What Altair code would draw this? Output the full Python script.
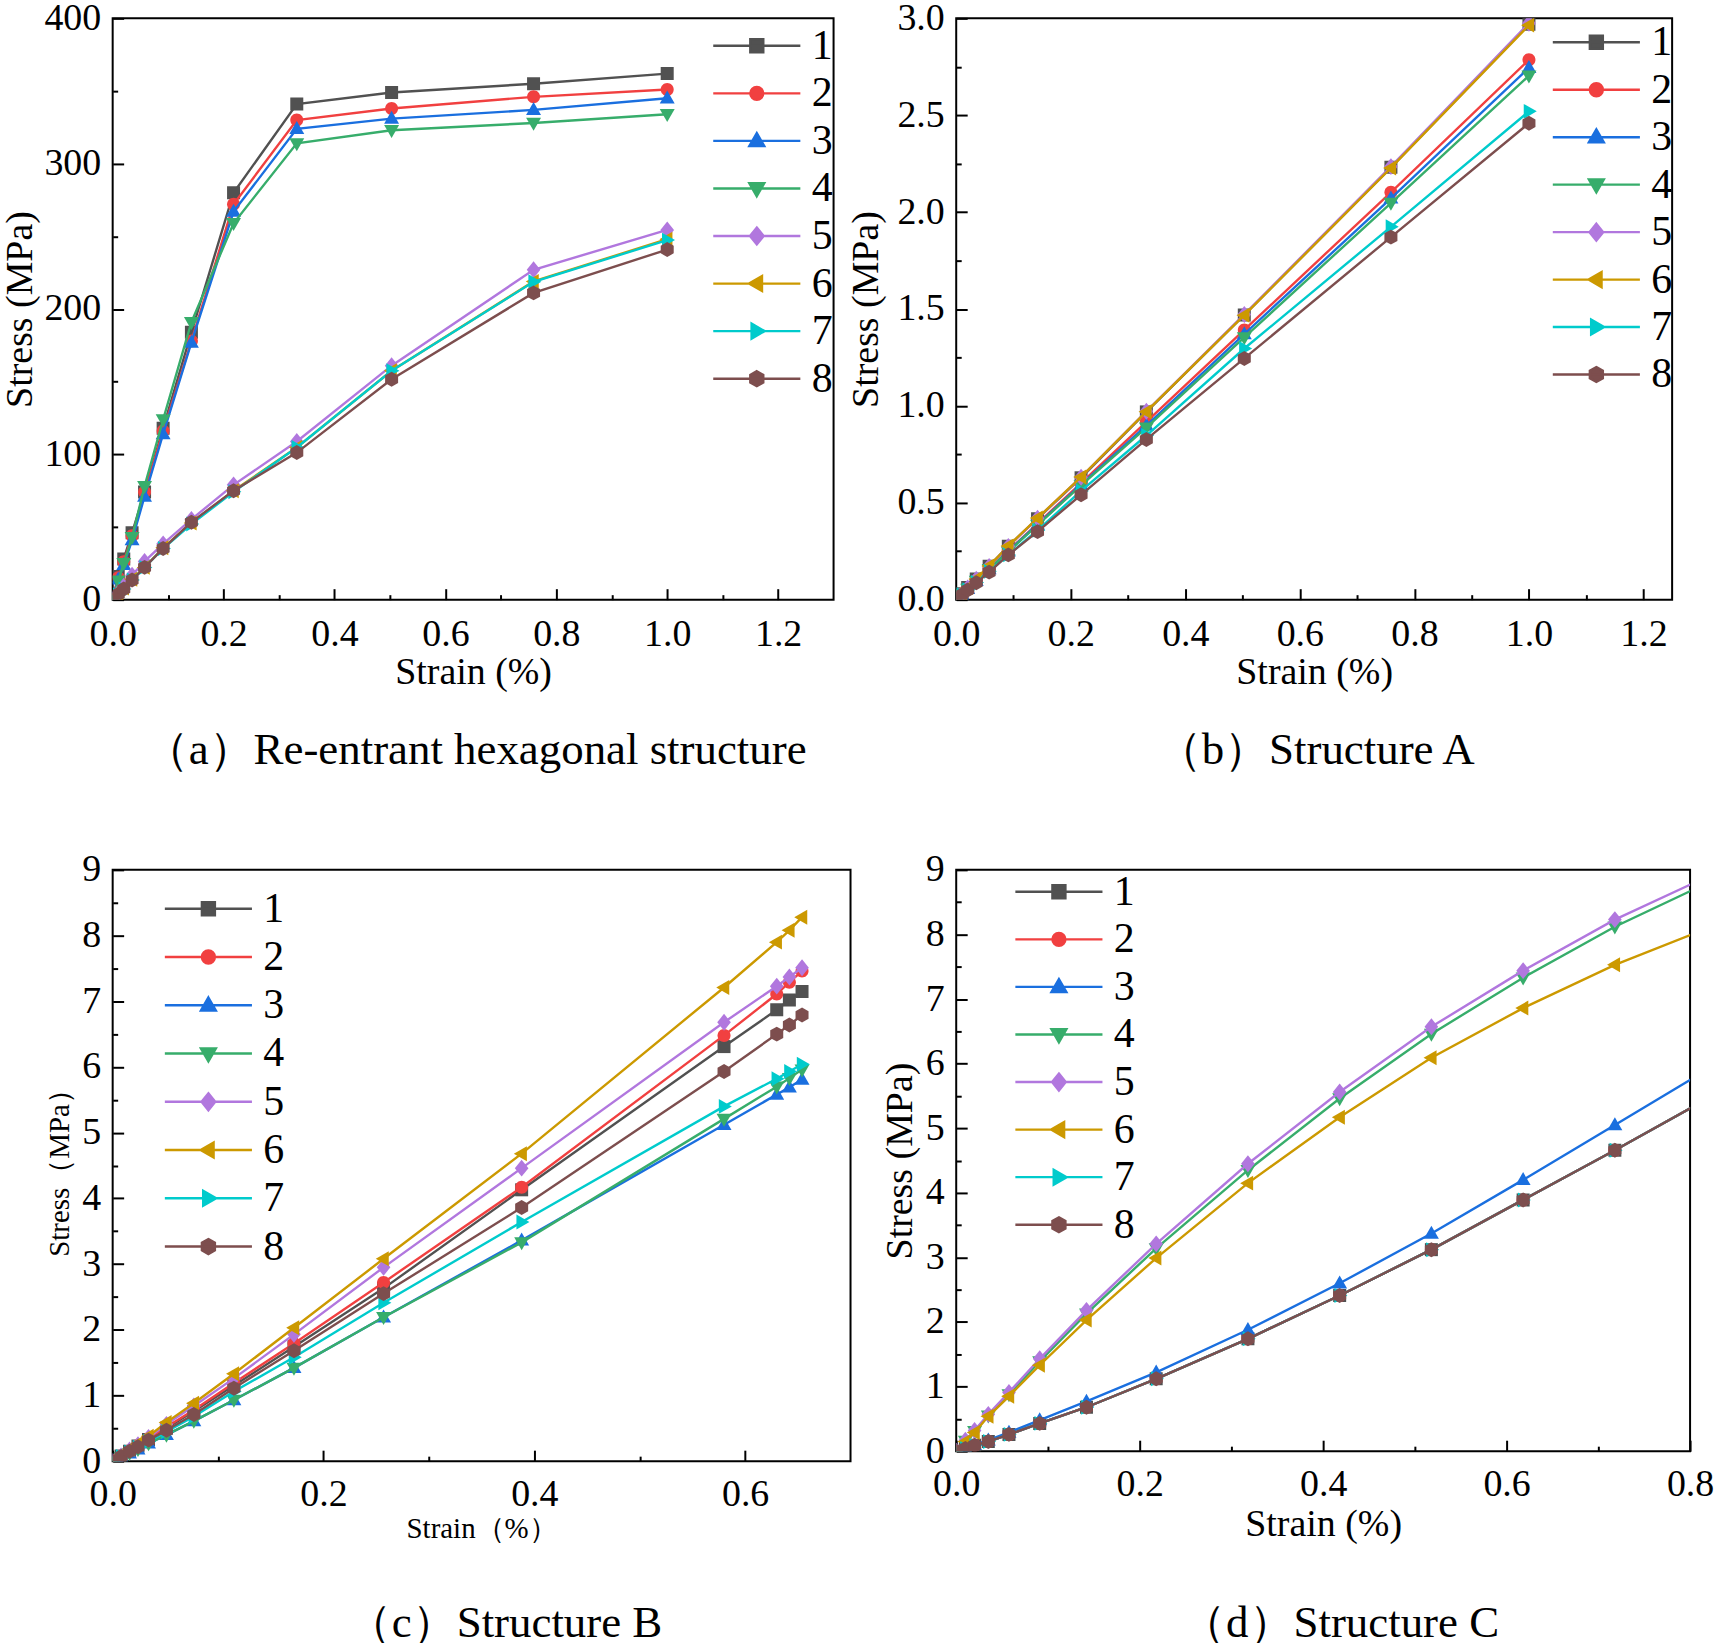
import altair as alt
import pandas as pd

FONT = "Liberation Serif"

SERIES = ["1", "2", "3", "4", "5", "6", "7", "8"]
COLORS = ["#515151", "#F14040", "#1A6FDF", "#37AD6B",
          "#B177DE", "#CC9900", "#00CBCC", "#7D4E4E"]

# Marker outlines in unit symbol coordinates
MARKERS = [
    "M-1,-1H1V1H-1Z",                                  # square
    "M1,0A1,1,0,1,1,-1,0A1,1,0,1,1,1,0Z",              # circle
    "M0,-1.2L1.15,0.8H-1.15Z",                         # triangle up
    "M0,1.2L1.15,-0.8H-1.15Z",                         # triangle down
    "M0,-1.3L1.05,0L0,1.3L-1.05,0Z",                   # diamond
    "M-1.2,0L0.8,-1.15V1.15Z",                         # triangle left
    "M1.2,0L-0.8,-1.15V1.15Z",                         # triangle right
    "M0,-1.15L1,-0.58V0.58L0,1.15L-1,0.58V-0.58Z",     # hexagon
]
# legend swatch: line segment through the marker
LEGEND_LINE = "M-6.7,0H6.7"
MSIZE = 170

# ---------------- (a) re-entrant hexagonal structure ----------------
STRAIN_A = [0, 0.01, 0.02, 0.035, 0.0575, 0.091, 0.142, 0.218, 0.332, 0.503, 0.759, 1.0]
STRESS_A = [
    [0, 16, 28, 46, 74, 118, 184, 280, 341, 349, 355, 362],
    [0, 15, 26, 44, 74, 116, 178, 272, 330, 338, 346, 351],
    [0, 14, 24, 41, 71, 114, 177, 267, 324, 331, 337, 345],
    [0, 13, 25, 43, 78, 124, 191, 259, 314, 323, 328, 334],
    [0, 4.6, 9.2, 16.8, 26.3, 38.4, 55.2, 79, 108.8, 161, 227, 254.4],
    [0, 3.8, 8, 14, 22.2, 35.7, 52.8, 75, 104.7, 157.5, 219, 248],
    [0, 3.2, 7.3, 13.5, 22.2, 35.2, 52, 74.2, 104.7, 157.5, 218.7, 247.4],
    [0, 3.8, 7.3, 13.5, 22.2, 35.2, 53.3, 75, 101.2, 151.6, 211.1, 240.9],
]

# ---------------- (b) structure A ----------------
STRAIN_B = [0, 0.01, 0.02, 0.035, 0.0575, 0.091, 0.142, 0.218, 0.332, 0.503, 0.759, 1.0]
STRESS_B = [
    [0, 0.031, 0.063, 0.106, 0.173, 0.276, 0.418, 0.629, 0.969, 1.469, 2.231, 2.970],
    [0, 0.029, 0.057, 0.099, 0.160, 0.253, 0.393, 0.602, 0.918, 1.392, 2.102, 2.786],
    [0, 0.028, 0.056, 0.097, 0.158, 0.250, 0.388, 0.594, 0.898, 1.371, 2.071, 2.745],
    [0, 0.028, 0.055, 0.096, 0.157, 0.248, 0.385, 0.590, 0.888, 1.353, 2.047, 2.704],
    [0, 0.030, 0.061, 0.105, 0.172, 0.275, 0.420, 0.632, 0.972, 1.472, 2.235, 2.975],
    [0, 0.030, 0.062, 0.107, 0.174, 0.277, 0.421, 0.633, 0.970, 1.468, 2.228, 2.965],
    [0, 0.026, 0.051, 0.089, 0.146, 0.231, 0.358, 0.561, 0.847, 1.296, 1.924, 2.520],
    [0, 0.025, 0.050, 0.087, 0.142, 0.231, 0.351, 0.541, 0.827, 1.245, 1.871, 2.459],
]

# ---------------- (c) structure B ----------------
STRAIN_C = [0, 0.008, 0.016, 0.024, 0.034, 0.051, 0.077, 0.115, 0.172, 0.257,
            0.388, 0.580, 0.630, 0.642, 0.654]
STRESS_C = [
    [0, 0.08, 0.15, 0.23, 0.33, 0.50, 0.76, 1.15, 1.74, 2.63, 4.13, 6.31, 6.87, 7.02, 7.15],
    [0, 0.08, 0.16, 0.24, 0.34, 0.52, 0.78, 1.19, 1.79, 2.72, 4.17, 6.48, 7.11, 7.29, 7.46],
    [0, 0.06, 0.12, 0.18, 0.27, 0.40, 0.61, 0.93, 1.42, 2.19, 3.36, 5.12, 5.58, 5.69, 5.81],
    [0, 0.06, 0.12, 0.18, 0.27, 0.40, 0.61, 0.93, 1.42, 2.19, 3.33, 5.21, 5.70, 5.83, 5.96],
    [0, 0.08, 0.17, 0.25, 0.36, 0.56, 0.84, 1.26, 1.93, 2.95, 4.46, 6.68, 7.23, 7.37, 7.51],
    [0, 0.09, 0.18, 0.27, 0.38, 0.59, 0.88, 1.33, 2.03, 3.08, 4.68, 7.21, 7.90, 8.08, 8.28],
    [0, 0.07, 0.14, 0.21, 0.30, 0.45, 0.68, 1.06, 1.58, 2.41, 3.64, 5.40, 5.82, 5.93, 6.04],
    [0, 0.07, 0.15, 0.22, 0.32, 0.47, 0.71, 1.11, 1.68, 2.55, 3.86, 5.93, 6.50, 6.64, 6.79],
]

# ---------------- (d) structure C ----------------
STRAIN_D = [0, 0.01, 0.02, 0.035, 0.0575, 0.091, 0.142, 0.218, 0.318, 0.418,
            0.518, 0.618, 0.718, 0.818]
STRESS_D = [
    [0, 0.04, 0.09, 0.15, 0.26, 0.43, 0.68, 1.12, 1.74, 2.41, 3.12, 3.89, 4.66, 5.45],
    [0, 0.04, 0.09, 0.15, 0.26, 0.43, 0.68, 1.12, 1.74, 2.41, 3.12, 3.89, 4.66, 5.45],
    [0, 0.05, 0.10, 0.17, 0.29, 0.48, 0.77, 1.22, 1.88, 2.60, 3.37, 4.20, 5.05, 5.90],
    [0, 0.16, 0.31, 0.55, 0.88, 1.39, 2.13, 3.14, 4.35, 5.46, 6.46, 7.33, 8.12, 8.79],
    [0, 0.17, 0.32, 0.57, 0.91, 1.43, 2.18, 3.21, 4.45, 5.56, 6.57, 7.44, 8.23, 8.89],
    [0, 0.15, 0.29, 0.54, 0.85, 1.33, 2.03, 2.99, 4.15, 5.17, 6.09, 6.86, 7.53, 8.09],
    [0, 0.04, 0.09, 0.15, 0.26, 0.43, 0.68, 1.12, 1.74, 2.41, 3.12, 3.89, 4.66, 5.45],
    [0, 0.04, 0.09, 0.15, 0.26, 0.43, 0.68, 1.12, 1.74, 2.41, 3.12, 3.89, 4.66, 5.45],
]


def long_table(strain, curves):
    rows = []
    for s, vals in zip(SERIES, curves):
        for x, y in zip(strain, vals):
            rows.append({"strain": x, "stress": y, "series": s})
    return pd.DataFrame(rows)


def major_axis(orient, values, fmt, title, title_size, title_padding, label_padding):
    return alt.Axis(
        orient=orient, values=values, format=fmt, title=title, grid=False,
        domain=False, ticks=True, tickSize=11, tickWidth=2, tickColor="black",
        offset=-11, labelFont=FONT, labelFontSize=38, labelColor="black",
        labelPadding=label_padding, labelFlush=False, labelOverlap=False,
        titleFont=FONT, titleFontSize=title_size, titleFontWeight="normal",
        titleColor="black", titlePadding=title_padding,
    )


def minor_axis(orient, values):
    return alt.Axis(
        orient=orient, values=values, labels=False, title=None, grid=False,
        domain=False, ticks=True, tickSize=5, tickWidth=2, tickColor="black",
        offset=-5,
    )


def panel(df, p):
    xs = alt.Scale(domain=p["xdomain"], nice=False, zero=False)
    ys = alt.Scale(domain=p["ydomain"], nice=False, zero=False)
    cs = alt.Scale(domain=SERIES, range=COLORS)

    # legend carrier: invisible points whose legend draws line + marker swatches
    leg = alt.Legend(
        orient="none", legendX=p["legx"], legendY=p["legy"], title=None,
        direction="vertical", symbolSize=MSIZE, symbolStrokeWidth=2.4,
        symbolOpacity=1, labelFont=FONT, labelFontSize=42, labelColor="black",
        labelOffset=34, rowPadding=p["rowpad"], padding=0,
    )
    key = alt.Chart(pd.DataFrame({"series": SERIES})).mark_point(
        filled=True, opacity=0, size=MSIZE).encode(
        color=alt.Color("series:N", scale=cs, legend=leg),
        stroke=alt.Stroke("series:N", scale=alt.Scale(domain=SERIES, range=COLORS), legend=leg),
        shape=alt.Shape("series:N",
                        scale=alt.Scale(domain=SERIES, range=[LEGEND_LINE + m for m in MARKERS]),
                        legend=leg),
    )
    layers = [key]
    for i, s in enumerate(SERIES):
        base = alt.Chart(df).transform_filter(alt.datum.series == s)
        if i == 0:
            xa_line = major_axis("bottom", p["xticks"], ".1f", p["xtitle"], p["tsize"],
                                 p["xtpad"], p["xlpad"])
            ya_line = major_axis("left", p["yticks"], p["yfmt"], p["ytitle"], p["tsize"],
                                 p["ytpad"], 12)
            xa_pt = minor_axis("bottom", p["xminor"])
            ya_pt = minor_axis("left", p["yminor"])
        else:
            xa_line = ya_line = xa_pt = ya_pt = None
        line = base.mark_line(strokeWidth=2.4, clip=True).encode(
            x=alt.X("strain:Q", scale=xs, axis=xa_line),
            y=alt.Y("stress:Q", scale=ys, axis=ya_line),
            color=alt.Color("series:N", scale=cs, legend=None),
        )
        pts = base.mark_point(filled=True, opacity=1, size=MSIZE, shape=MARKERS[i],
                              clip=True).encode(
            x=alt.X("strain:Q", scale=xs, axis=xa_pt),
            y=alt.Y("stress:Q", scale=ys, axis=ya_pt),
            color=alt.Color("series:N", scale=cs, legend=None),
        )
        layers += [line, pts]

    return alt.layer(*layers).resolve_axis(x="independent", y="independent").properties(
        width=p["w"], height=p["h"],
        title=alt.TitleParams(
            text=p["caption"], orient="bottom", anchor="middle", frame="group",
            offset=p["coff"], dx=p["cdx"], font=FONT, fontSize=45,
            fontWeight="normal", color="black",
        ),
    )


pa = panel(long_table(STRAIN_A, STRESS_A), dict(
    xdomain=[0, 1.3], ydomain=[0, 400],
    xticks=[0, 0.2, 0.4, 0.6, 0.8, 1.0, 1.2], xminor=[0.1, 0.3, 0.5, 0.7, 0.9, 1.1],
    yticks=[0, 100, 200, 300, 400], yminor=[50, 150, 250, 350], yfmt="d",
    xtitle="Strain (%)", ytitle="Stress (MPa)", tsize=38, xtpad=0, xlpad=16, ytpad=4,
    legx=625, legy=6.5, rowpad=5.7, w=723, h=583,
    caption="（a）Re-entrant hexagonal structure", coff=37, cdx=2,
))

pb = panel(long_table(STRAIN_B, STRESS_B), dict(
    xdomain=[0, 1.25], ydomain=[0, 3.0],
    xticks=[0, 0.2, 0.4, 0.6, 0.8, 1.0, 1.2], xminor=[0.1, 0.3, 0.5, 0.7, 0.9, 1.1],
    yticks=[0, 0.5, 1.0, 1.5, 2.0, 2.5, 3.0],
    yminor=[0.25, 0.75, 1.25, 1.75, 2.25, 2.75], yfmt=".1f",
    xtitle="Strain (%)", ytitle="Stress (MPa)", tsize=38, xtpad=0, xlpad=16, ytpad=11,
    legx=621, legy=3, rowpad=5.6, w=718, h=583,
    caption="（b）Structure A", coff=37, cdx=1.5,
))

pc = panel(long_table(STRAIN_C, STRESS_C), dict(
    xdomain=[0, 0.7], ydomain=[0, 9],
    xticks=[0, 0.2, 0.4, 0.6], xminor=[0.1, 0.3, 0.5],
    yticks=list(range(0, 10)), yminor=[0.5 + k for k in range(9)], yfmt="d",
    xtitle="Strain（%）", ytitle="Stress（MPa）", tsize=29, xtpad=2, xlpad=14, ytpad=7,
    legx=75, legy=18, rowpad=6.4, w=740, h=593,
    caption="（c）Structure B", coff=57, cdx=23,
))

pd_ = panel(long_table(STRAIN_D, STRESS_D), dict(
    xdomain=[0, 0.8], ydomain=[0, 9],
    xticks=[0, 0.2, 0.4, 0.6, 0.8], xminor=[0.1, 0.3, 0.5, 0.7],
    yticks=list(range(0, 10)), yminor=[0.5 + k for k in range(9)], yfmt="d",
    xtitle="Strain (%)", ytitle="Stress (MPa)", tsize=38, xtpad=3, xlpad=14, ytpad=6,
    legx=82, legy=1, rowpad=5.7, w=736, h=583,
    caption="（d）Structure C", coff=57, cdx=17,
))

chart = alt.concat(
    pa, pb, pc, pd_, columns=2,
    spacing={"row": 271, "column": 106}, bounds="flush",
).resolve_scale(
    color="independent", shape="independent", stroke="independent",
).properties(
    padding={"left": 1, "top": -4, "right": 0, "bottom": 0},
    background="white",
).configure_view(stroke="black", strokeWidth=2)

chart.save("out.html", embed_options={"renderer": "svg", "actions": False})
